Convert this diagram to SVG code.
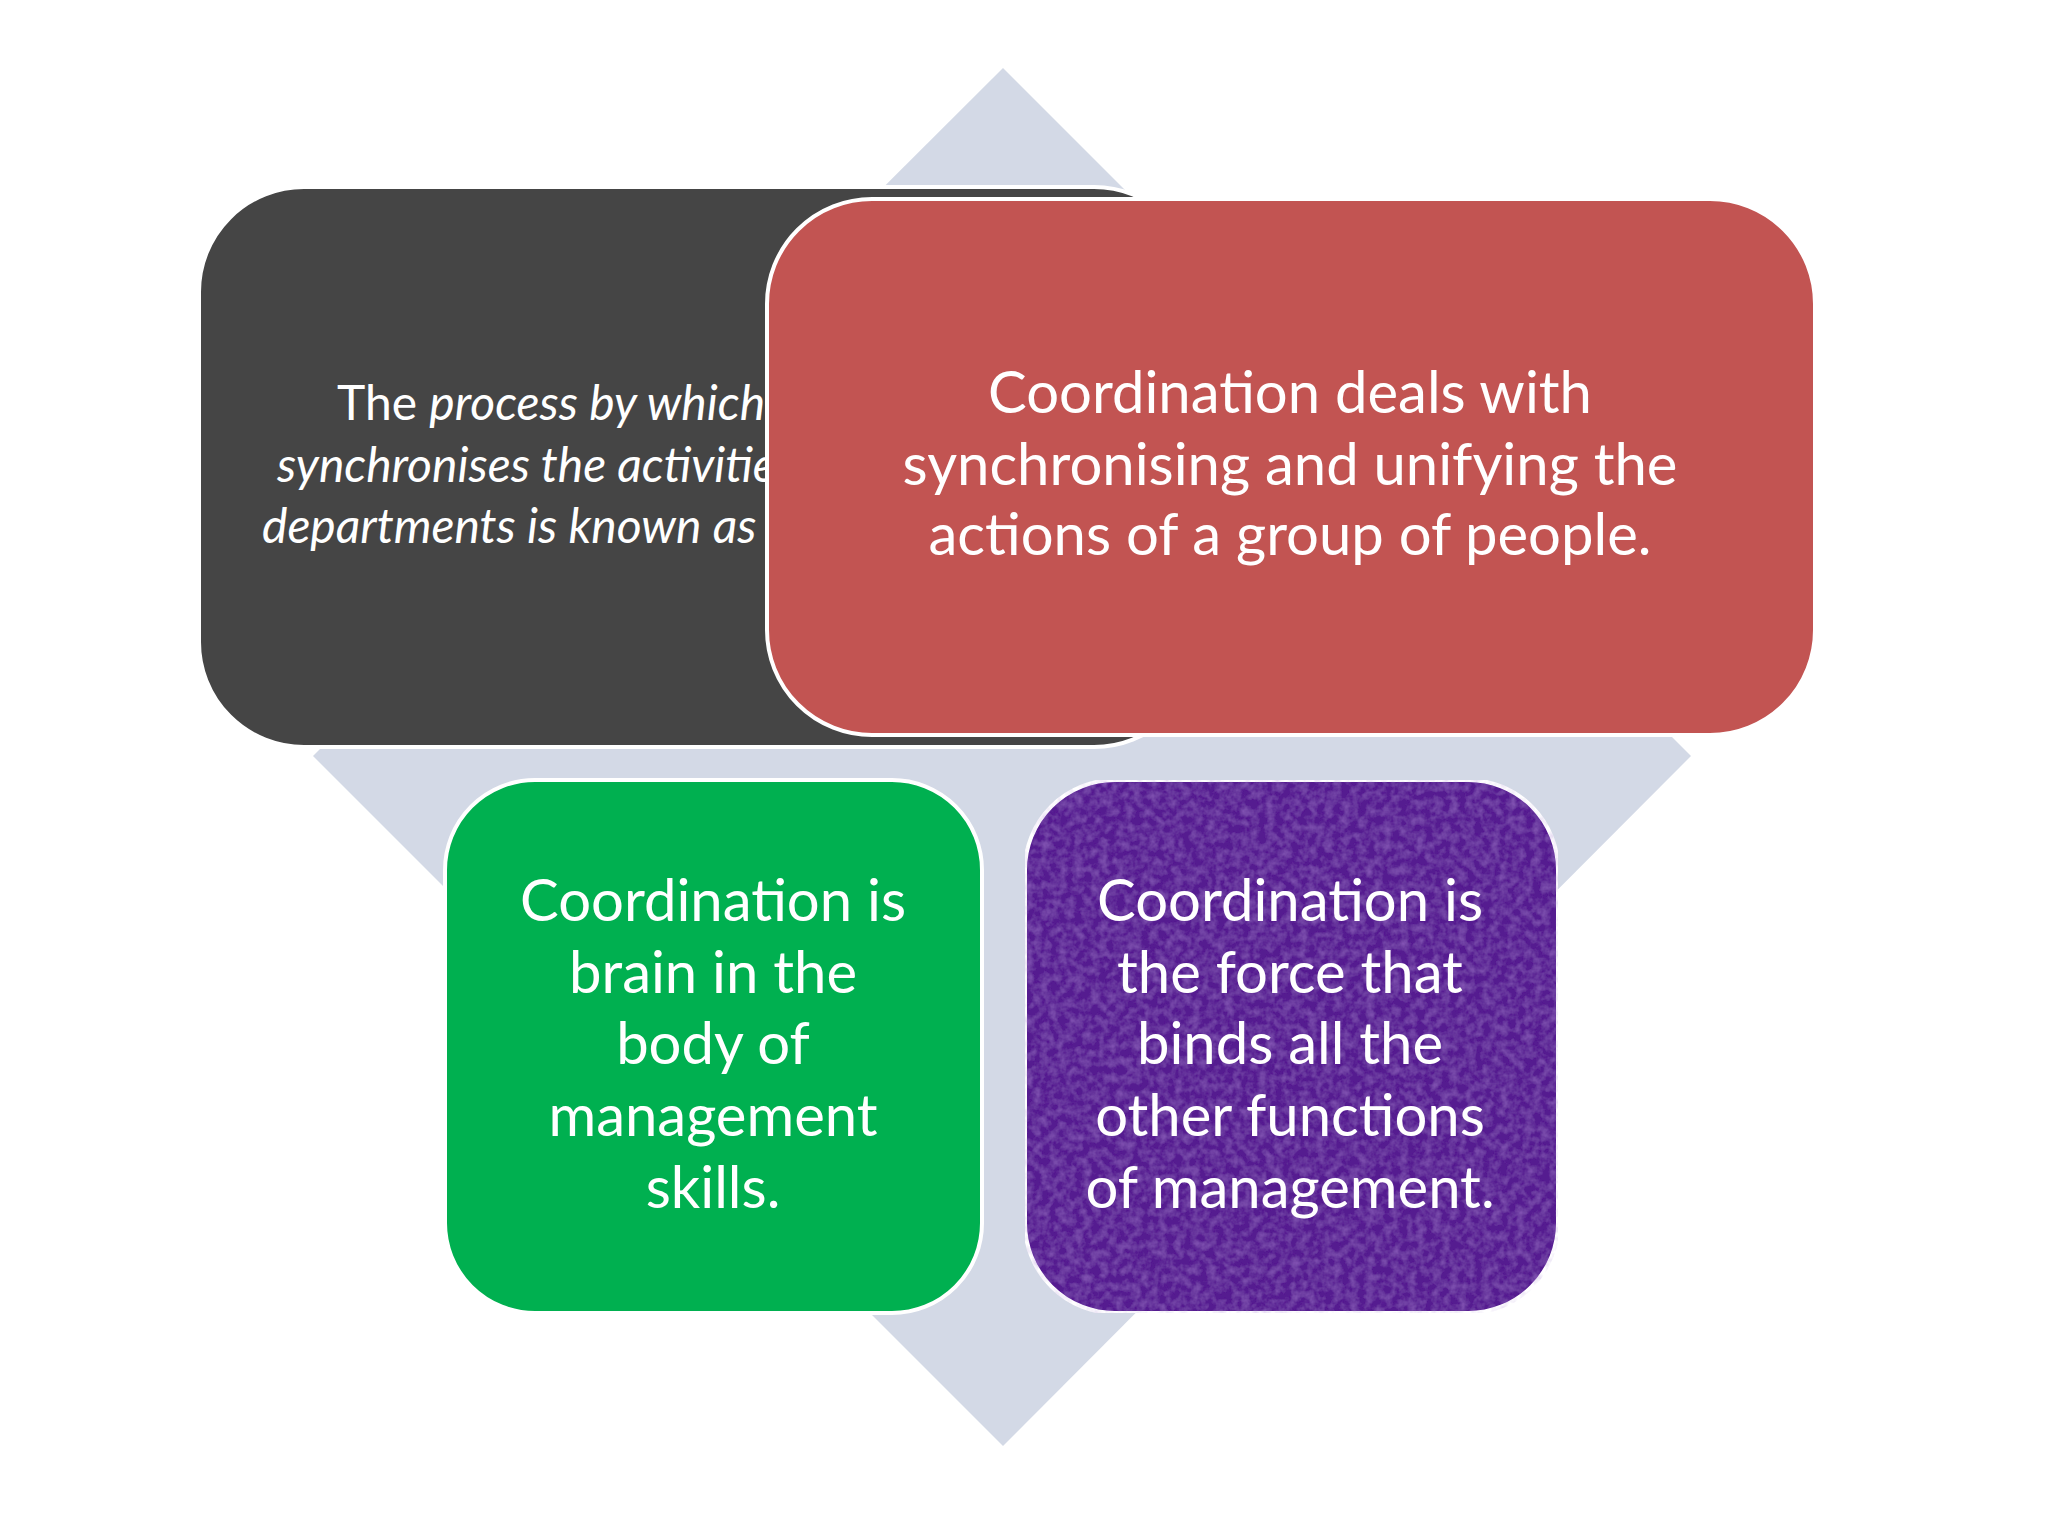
<svg xmlns="http://www.w3.org/2000/svg" width="2048" height="1536" viewBox="0 0 2048 1536">
<defs>
<style>
.box{stroke:#ffffff;stroke-width:4}
.t{font-family:Lato,"Open Sans",sans-serif;fill:#ffffff;font-size:58px;text-anchor:middle}
.d{font-family:Lato,"Open Sans",sans-serif;fill:#ffffff;font-size:48px}
</style>
<filter id="felt" x="0" y="0" width="100%" height="100%">
<feTurbulence type="fractalNoise" baseFrequency="0.12" numOctaves="3" seed="4" result="n"/>
<feColorMatrix in="n" type="matrix" values="0 0 0 0 0.42  0 0 0 0 0.2  0 0 0 0 0.7  0 0 0 0.7 -0.25" result="c"/>
<feComposite in="c" in2="SourceGraphic" operator="in" result="m"/>
<feMerge><feMergeNode in="SourceGraphic"/><feMergeNode in="m"/></feMerge>
</filter>
</defs>
<rect width="2048" height="1536" fill="#ffffff"/>
<g id="diamond"><polygon points="1003,68 1691,756 1003,1446 313,756" fill="#d3d9e6"/></g>
<g id="connectors"></g>
<g id="node-dark">
<rect class="box" x="199" y="187" width="1000" height="560" rx="105" fill="#454545"/>
<text class="d" x="337" y="420">The <tspan font-style="italic">process by which</tspan></text>
<text class="d" x="277" y="482" font-style="italic">synchronises the activities</text>
<text class="d" x="262" y="543" font-style="italic">departments is known as</text>
</g>
<g id="node-red">
<rect class="box" x="767" y="199" width="1048" height="536" rx="105" fill="#c25452"/>
<text class="t" x="1290" y="413">Coordination deals with</text>
<text class="t" x="1290" y="485">synchronising and unifying the</text>
<text class="t" x="1290" y="555">actions of a group of people.</text>
</g>
<g id="node-green">
<rect class="box" x="445" y="780" width="537" height="533" rx="90" fill="#00b050"/>
<text class="t" x="713" y="921">Coordination is</text>
<text class="t" x="713" y="993">brain in the</text>
<text class="t" x="713" y="1064">body of</text>
<text class="t" x="713" y="1136">management</text>
<text class="t" x="713" y="1208">skills.</text>
</g>
<g id="node-purple">
<rect class="box" x="1025" y="780" width="533" height="533" rx="90" fill="#541a90" filter="url(#felt)"/>
<text class="t" x="1290" y="921">Coordination is</text>
<text class="t" x="1290" y="993">the force that</text>
<text class="t" x="1290" y="1064">binds all the</text>
<text class="t" x="1290" y="1136">other functions</text>
<text class="t" x="1290" y="1208">of management.</text>
</g>
</svg>
